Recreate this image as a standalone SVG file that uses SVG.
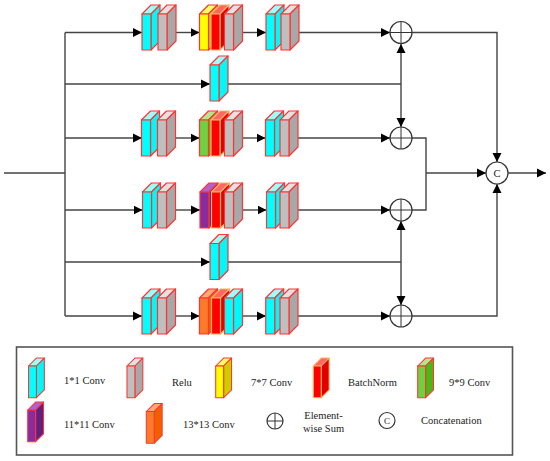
<svg xmlns="http://www.w3.org/2000/svg" width="550" height="461" viewBox="0 0 550 461">
<style>
.w{fill:none;stroke:#444;stroke-width:1.4}
.a{marker-end:url(#arr)}
.c{fill:#fff;stroke:#333;stroke-width:1.2}
.x{stroke:#333;stroke-width:1;fill:none}
.b{stroke:#ff3535;stroke-width:1.2;stroke-linejoin:round}
.r{stroke:#ffb060;stroke-width:1.2;stroke-linejoin:round}
text{font-family:"Liberation Serif","Times New Roman",serif;font-size:10.5px;fill:#222}
</style>
<defs>
<marker id="arr" markerUnits="userSpaceOnUse" markerWidth="9" markerHeight="10" refX="8" refY="4" orient="auto" viewBox="0 0 8 8"><path d="M0 0L8 4L0 8Z" fill="#000"/></marker>
<g id="cy" class="b"><polygon points="0,0 9,-9 18,-9 9,0" fill="#99ffff"/><polygon points="9,0 18,-9 18,27 9,36" fill="#00f8f8"/><rect width="9" height="36" fill="#00ffff"/></g>
<g id="gr" class="b"><polygon points="0,0 9,-9 18,-9 9,0" fill="#e2e2e2"/><polygon points="9,0 18,-9 18,27 9,36" fill="#a8a8a8"/><rect width="9" height="36" fill="#bfbfbf"/></g>
<g id="ye" class="b"><polygon points="0,0 9,-9 18,-9 9,0" fill="#ffff66"/><polygon points="9,0 18,-9 18,27 9,36" fill="#cccc00"/><rect width="9" height="36" fill="#ffff00"/></g>
<g id="re" class="r"><polygon points="0,0 9,-9 18,-9 9,0" fill="#ff6666"/><polygon points="9,0 18,-9 18,27 9,36" fill="#e00000"/><rect width="9" height="36" fill="#ff0000"/></g>
<g id="gn" class="b"><polygon points="0,0 9,-9 18,-9 9,0" fill="#b4e48c"/><polygon points="9,0 18,-9 18,27 9,36" fill="#4cb818"/><rect width="9" height="36" fill="#70d040"/></g>
<g id="pu" class="b"><polygon points="0,0 9,-9 18,-9 9,0" fill="#b060d0"/><polygon points="9,0 18,-9 18,27 9,36" fill="#5f2080"/><rect width="9" height="36" fill="#8a2aa0"/></g>
<g id="or" class="b"><polygon points="0,0 9,-9 18,-9 9,0" fill="#ffaa70"/><polygon points="9,0 18,-9 18,27 9,36" fill="#f06000"/><rect width="9" height="36" fill="#ff7a28"/></g>
<g id="sum"><circle r="11" class="c"/><path d="M-11 0H11M0 -11V11" class="x"/></g>
</defs>

<g id="connectors">
<path class="w" d="M4 173H65M65 32.500V316"/>
<path class="w a" d="M65 32.500H142"/>
<path class="w a" d="M176 32.500H199.500"/>
<path class="w a" d="M243 32.500H266"/>
<path class="w a" d="M299 32.500H390"/>
<path class="w a" d="M65 84H210"/>
<path class="w" d="M228 84H401"/>
<path class="w a" d="M65 138H142"/>
<path class="w a" d="M176 138H199.500"/>
<path class="w a" d="M243 138H265.500"/>
<path class="w a" d="M298 138H390"/>
<path class="w a" d="M65 210H142.500"/>
<path class="w a" d="M176 210H200"/>
<path class="w a" d="M243 210H266.500"/>
<path class="w a" d="M298 210H390"/>
<path class="w a" d="M65 262H210"/>
<path class="w" d="M228 262H401"/>
<path class="w a" d="M65 316H142"/>
<path class="w a" d="M176 316H199.500"/>
<path class="w a" d="M243 316H266"/>
<path class="w a" d="M298 316H390"/>
<path class="w a" d="M401 84V44"/>
<path class="w a" d="M401 84V127"/>
<path class="w a" d="M401 262V221"/>
<path class="w a" d="M401 262V305"/>
<path class="w a" d="M412 32.500H497V162"/>
<path class="w" d="M412 138H426V210H412"/>
<path class="w a" d="M426 173H486"/>
<path class="w a" d="M412 316H497V184"/>
<path class="w a" d="M508 173H546"/>
</g>

<g id="row1">
<use href="#cy" x="142" y="14"/><use href="#gr" x="158" y="14"/><use href="#ye" x="199.500" y="14"/><use href="#re" x="211" y="14"/><use href="#gr" x="224.500" y="14"/><use href="#cy" x="266" y="14"/><use href="#gr" x="281" y="14"/>
</g>
<g id="skip1"><use href="#cy" x="210" y="65"/></g>
<g id="row2">
<use href="#cy" x="141.500" y="120"/><use href="#gr" x="157.500" y="120"/><use href="#gn" x="199.500" y="120"/><use href="#re" x="211" y="120"/><use href="#gr" x="224.500" y="120"/><use href="#cy" x="265.500" y="120"/><use href="#gr" x="280" y="120"/>
</g>
<g id="row3">
<use href="#cy" x="142.500" y="192"/><use href="#gr" x="157.500" y="192"/><use href="#pu" x="200" y="192"/><use href="#re" x="211.500" y="192"/><use href="#gr" x="224.500" y="192"/><use href="#cy" x="266.500" y="192"/><use href="#gr" x="280" y="192"/>
</g>
<g id="skip2"><use href="#cy" x="210" y="243.500"/></g>
<g id="row4">
<use href="#cy" x="142" y="298"/><use href="#gr" x="157.500" y="298"/><use href="#or" x="199.500" y="298"/><use href="#re" x="211.500" y="298"/><use href="#cy" x="224.500" y="298"/><use href="#cy" x="265.700" y="298"/><use href="#gr" x="280" y="298"/>
</g>

<g id="sum1"><use href="#sum" x="401" y="32.500"/></g>
<g id="sum2"><use href="#sum" x="401" y="138"/></g>
<g id="sum3"><use href="#sum" x="401" y="210"/></g>
<g id="sum4"><use href="#sum" x="401" y="316"/></g>
<g id="concat"><circle cx="497" cy="173" r="11" class="c"/><text x="497" y="177" text-anchor="middle">C</text></g>

<g id="legend">
<rect x="16.500" y="347" width="496" height="108" fill="#fff" stroke="#555" stroke-width="1.6"/>
<use href="#cy" transform="translate(28.500 366) scale(.88)"/><text x="64" y="384">1*1 Conv</text>
<use href="#gr" transform="translate(127 366) scale(.88)"/><text x="172" y="386">Relu</text>
<use href="#ye" transform="translate(215.700 366) scale(.88)"/><text x="251" y="386">7*7 Conv</text>
<use href="#re" transform="translate(313.300 366) scale(.88)"/><text x="348" y="386">BatchNorm</text>
<use href="#gn" transform="translate(417.700 366) scale(.88)"/><text x="449" y="386">9*9 Conv</text>
<use href="#pu" transform="translate(27.700 410) scale(.88)"/><text x="64" y="428">11*11 Conv</text>
<use href="#or" transform="translate(146.300 411.500) scale(.88)"/><text x="183" y="428">13*13 Conv</text>
<circle cx="275" cy="421" r="8" class="c"/><path d="M267 421H283M275 413V429" class="x"/>
<text x="323.500" y="419" text-anchor="middle">Element-</text><text x="323.500" y="432" text-anchor="middle">wise Sum</text>
<circle cx="387" cy="420.500" r="8" class="c"/><text x="387" y="424" text-anchor="middle" style="font-size:9px">C</text>
<text x="421" y="424">Concatenation</text>
</g>
</svg>
